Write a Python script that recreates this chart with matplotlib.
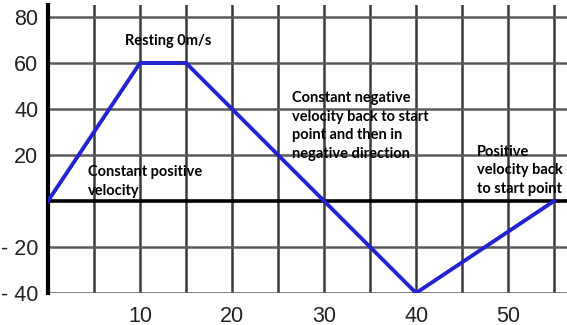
import matplotlib.pyplot as plt

plt.rcParams['font.family'] = ['Liberation Sans', 'DejaVu Sans']

# position-time graph
times = [0, 10, 15, 30, 40, 55]
positions = [0, 60, 60, 0, -40, 0]

yticks = [80, 60, 40, 20, -20, -40]
ytick_labels = ['80', '60', '40', '20', '- 20', '- 40']
xticks = [10, 20, 30, 40, 50]

notes = [
    (13.1, 69.5, "Resting 0m/s", 'center'),
    (4.35, 15.5, "Constant positive\nvelocity", 'left'),
    (26.5, 47.8, "Constant negative\nvelocity back to start\npoint and then in\nnegative direction", 'left'),
    (46.6, 24.5, "Positive\nvelocity back\nto start point", 'left'),
]

fig = plt.figure(figsize=(5.67, 3.25), dpi=100)
ax = fig.add_axes([48/567, 32/325, 1 - 48/567, 288/325])

ax.set_xlim(0, 56.4)
ax.set_ylim(-40, 85.2)

# grid
for gx in range(5, 60, 5):
    ax.axvline(gx, color='#3a3a3a', lw=1.8, zorder=1)
for gy in [80, 60, 40, 20, -20, -40]:
    ax.axhline(gy, color='#5a5a5a', lw=1.8, zorder=1)
ax.axhline(0, color='black', lw=2.6, zorder=2)

ax.plot(times, positions, color='#2323d2', lw=2.8, zorder=3, solid_joinstyle='miter')

for s in ['top', 'right', 'bottom']:
    ax.spines[s].set_visible(False)
ax.spines['left'].set_linewidth(3)
ax.spines['left'].set_color('black')

ax.set_yticks(yticks)
ax.set_yticklabels(ytick_labels)
ax.set_xticks(xticks)
ax.tick_params(length=0, labelsize=15.5, labelcolor='#222222')
ax.tick_params(axis='y', pad=7)
ax.tick_params(axis='x', pad=9)

for x, y, txt, ha in notes:
    ax.text(x, y, txt, ha=ha, va='top' if '\n' in txt else 'center',
            fontsize=10.5, fontweight='bold', family=['Lato', 'DejaVu Sans'],
            linespacing=1.42, zorder=4)

fig.savefig('out.png', dpi=100)
